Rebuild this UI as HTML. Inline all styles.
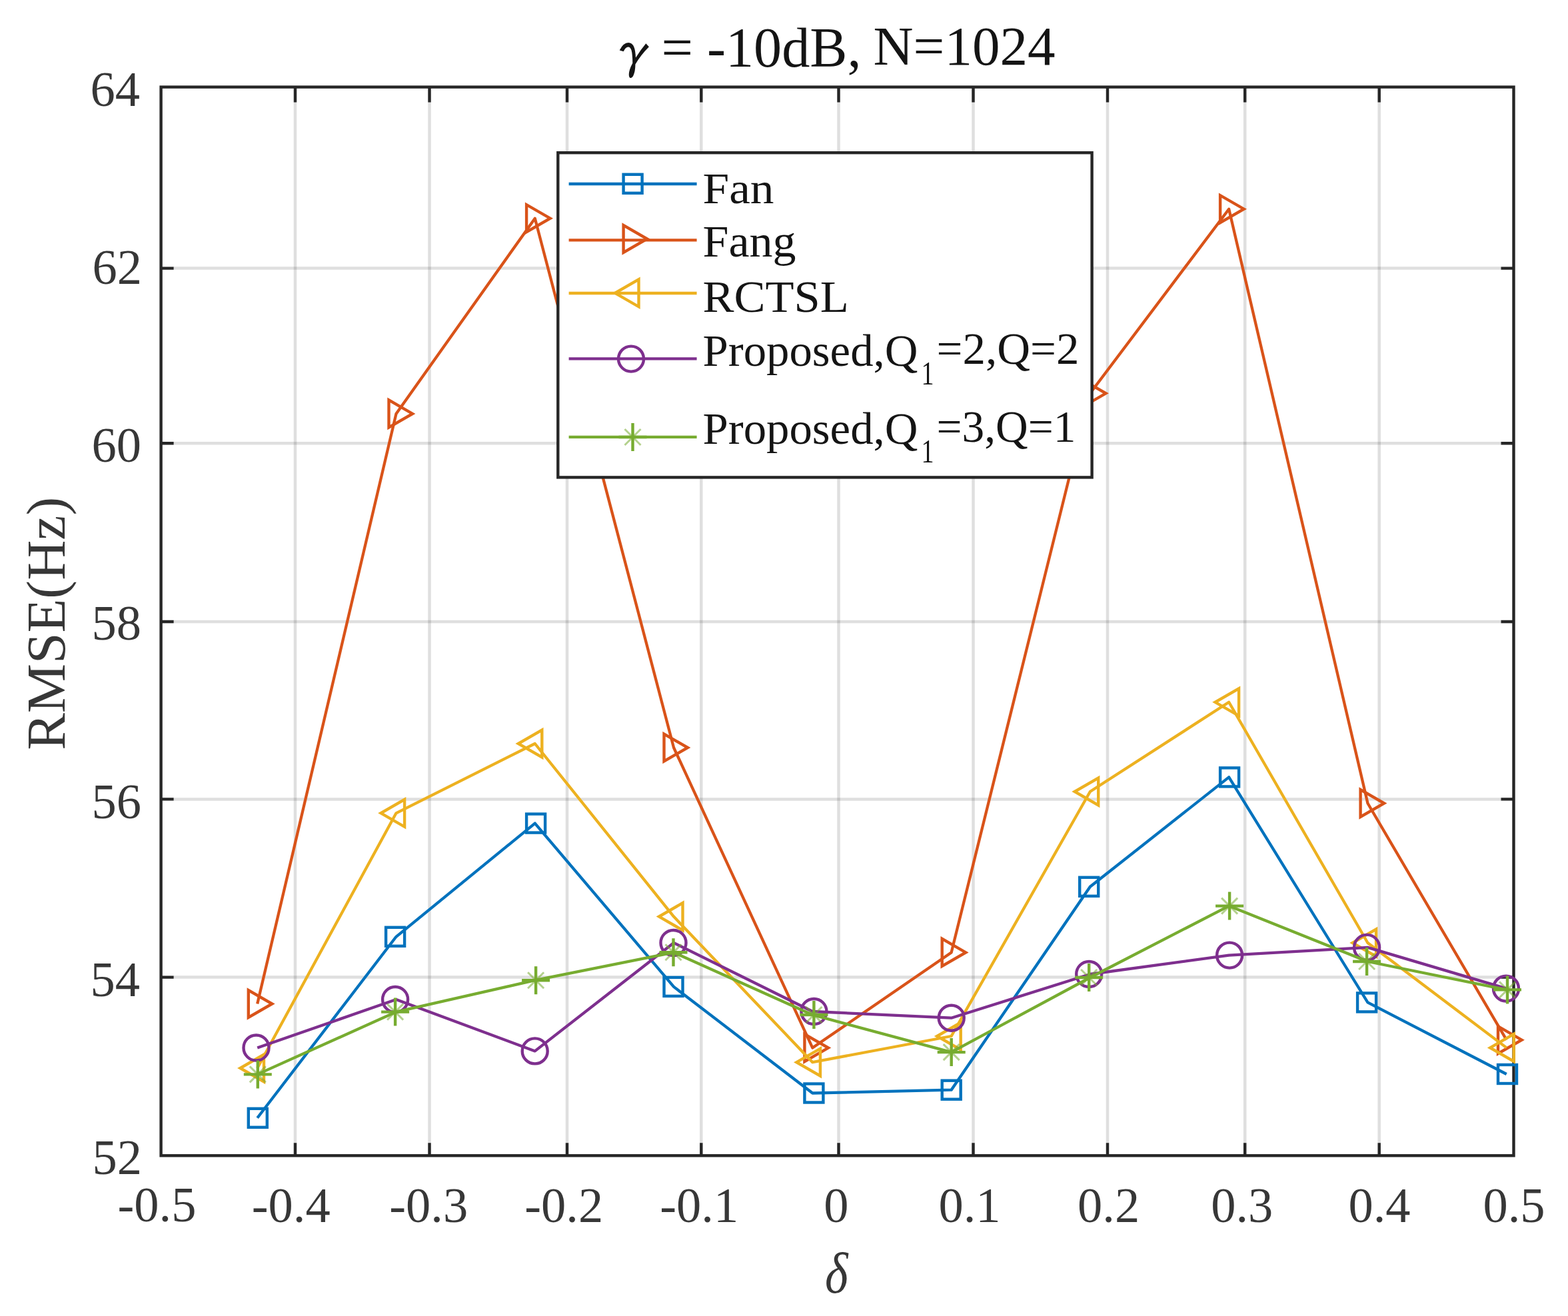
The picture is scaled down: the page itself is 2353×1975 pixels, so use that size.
<!DOCTYPE html>
<html><head><meta charset="utf-8"><title>RMSE plot</title>
<style>html,body{margin:0;padding:0;background:#fff;}svg{display:block;}svg{font-family:"Liberation Serif","Times New Roman",serif;}</style></head><body>
<svg width="2353" height="1975" viewBox="0 0 2353 1975">
<rect width="2353" height="1975" fill="#fff"/>
<path d="M443 130.6V1734.3M644.5 130.6V1734.3M851 130.6V1734.3M1052.3 130.6V1734.3M1258.5 130.6V1734.3M1460.5 130.6V1734.3M1662 130.6V1734.3M1868.2 130.6V1734.3M2069.7 130.6V1734.3" stroke="#262626" stroke-opacity="0.15" stroke-width="4.5" fill="none"/>
<path d="M241.6 402.6H2271.5M241.6 665.3H2271.5M241.6 933H2271.5M241.6 1199.4H2271.5M241.6 1466.6H2271.5" stroke="#262626" stroke-opacity="0.15" stroke-width="4.5" fill="none"/>
<path d="M443 1734.3V1715.3M443 130.6V153.6M644.5 1734.3V1715.3M644.5 130.6V153.6M851 1734.3V1715.3M851 130.6V153.6M1052.3 1734.3V1715.3M1052.3 130.6V153.6M1258.5 1734.3V1715.3M1258.5 130.6V153.6M1460.5 1734.3V1715.3M1460.5 130.6V153.6M1662 1734.3V1715.3M1662 130.6V153.6M1868.2 1734.3V1715.3M1868.2 130.6V153.6M2069.7 1734.3V1715.3M2069.7 130.6V153.6M241.6 402.6H260.6M2271.5 402.6H2252.5M241.6 665.3H260.6M2271.5 665.3H2252.5M241.6 933H260.6M2271.5 933H2252.5M241.6 1199.4H260.6M2271.5 1199.4H2252.5M241.6 1466.6H260.6M2271.5 1466.6H2252.5" stroke="#262626" stroke-width="4.4" fill="none"/>
<rect x="241.6" y="130.6" width="2029.9" height="1603.7" fill="none" stroke="#262626" stroke-width="4.4"/>
<polyline points="386.2,1677.8 594.48,1405.8 802.76,1235.6 1011.04,1480.9 1219.32,1640.5 1427.6,1635.7 1635.88,1330.8 1844.16,1166.4 2052.44,1504.4 2260.72,1612" fill="none" stroke="#0072BD" stroke-width="4.3" stroke-linejoin="round"/>
<g><rect x="372.8" y="1663.8" width="28" height="28" fill="none" stroke="#0072BD" stroke-width="4.4"/><rect x="579.1" y="1391.8" width="28" height="28" fill="none" stroke="#0072BD" stroke-width="4.4"/><rect x="790.1" y="1221.6" width="28" height="28" fill="none" stroke="#0072BD" stroke-width="4.4"/><rect x="996.5" y="1466.9" width="28" height="28" fill="none" stroke="#0072BD" stroke-width="4.4"/><rect x="1207.4" y="1626.5" width="28" height="28" fill="none" stroke="#0072BD" stroke-width="4.4"/><rect x="1413.7" y="1621.7" width="28" height="28" fill="none" stroke="#0072BD" stroke-width="4.4"/><rect x="1620.2" y="1316.8" width="28" height="28" fill="none" stroke="#0072BD" stroke-width="4.4"/><rect x="1831.1" y="1152.4" width="28" height="28" fill="none" stroke="#0072BD" stroke-width="4.4"/><rect x="2037.1" y="1490.4" width="28" height="28" fill="none" stroke="#0072BD" stroke-width="4.4"/><rect x="2248" y="1598" width="28" height="28" fill="none" stroke="#0072BD" stroke-width="4.4"/></g>
<polyline points="386.2,1506.5 594.48,620.9 802.76,327.7 1011.04,1122 1219.32,1572.6 1427.6,1429.4 1635.88,590.3 1844.16,313.7 2052.44,1205.5 2260.72,1560.7" fill="none" stroke="#D95319" stroke-width="4.3" stroke-linejoin="round"/>
<g><polygon points="372.8,1486 372.8,1527 408.3,1506.5" fill="none" stroke="#D95319" stroke-width="4.4"/><polygon points="583.5,600.4 583.5,641.4 619,620.9" fill="none" stroke="#D95319" stroke-width="4.4"/><polygon points="790.1,307.2 790.1,348.2 825.6,327.7" fill="none" stroke="#D95319" stroke-width="4.4"/><polygon points="996.5,1101.5 996.5,1142.5 1032,1122" fill="none" stroke="#D95319" stroke-width="4.4"/><polygon points="1207.4,1552.1 1207.4,1593.1 1242.9,1572.6" fill="none" stroke="#D95319" stroke-width="4.4"/><polygon points="1413.7,1408.9 1413.7,1449.9 1449.2,1429.4" fill="none" stroke="#D95319" stroke-width="4.4"/><polygon points="1624,569.8 1624,610.8 1659.5,590.3" fill="none" stroke="#D95319" stroke-width="4.4"/><polygon points="1831.1,293.2 1831.1,334.2 1866.6,313.7" fill="none" stroke="#D95319" stroke-width="4.4"/><polygon points="2041.6,1185 2041.6,1226 2077.1,1205.5" fill="none" stroke="#D95319" stroke-width="4.4"/><polygon points="2248,1540.2 2248,1581.2 2283.5,1560.7" fill="none" stroke="#D95319" stroke-width="4.4"/></g>
<polyline points="386.2,1603 594.48,1220.3 802.76,1116 1011.04,1375.6 1219.32,1594.2 1427.6,1555 1635.88,1188 1844.16,1053.8 2052.44,1415 2260.72,1572.4" fill="none" stroke="#EDB120" stroke-width="4.3" stroke-linejoin="round"/>
<g><polygon points="396,1582.5 396,1623.5 360.5,1603" fill="none" stroke="#EDB120" stroke-width="4.4"/><polygon points="607.1,1199.8 607.1,1240.8 571.6,1220.3" fill="none" stroke="#EDB120" stroke-width="4.4"/><polygon points="813.3,1095.5 813.3,1136.5 777.8,1116" fill="none" stroke="#EDB120" stroke-width="4.4"/><polygon points="1024.5,1355.1 1024.5,1396.1 989,1375.6" fill="none" stroke="#EDB120" stroke-width="4.4"/><polygon points="1230.9,1573.7 1230.9,1614.7 1195.4,1594.2" fill="none" stroke="#EDB120" stroke-width="4.4"/><polygon points="1441.7,1534.5 1441.7,1575.5 1406.2,1555" fill="none" stroke="#EDB120" stroke-width="4.4"/><polygon points="1648.2,1167.5 1648.2,1208.5 1612.7,1188" fill="none" stroke="#EDB120" stroke-width="4.4"/><polygon points="1859.1,1033.3 1859.1,1074.3 1823.6,1053.8" fill="none" stroke="#EDB120" stroke-width="4.4"/><polygon points="2065.1,1394.5 2065.1,1435.5 2029.6,1415" fill="none" stroke="#EDB120" stroke-width="4.4"/><polygon points="2271.7,1551.9 2271.7,1592.9 2236.2,1572.4" fill="none" stroke="#EDB120" stroke-width="4.4"/></g>
<polyline points="386.2,1572.5 594.48,1500 802.76,1577.4 1011.04,1415 1219.32,1518 1427.6,1527.7 1635.88,1462 1844.16,1433.6 2052.44,1421.9 2260.72,1483.6" fill="none" stroke="#7E2F8E" stroke-width="4.3" stroke-linejoin="round"/>
<g><circle cx="384.5" cy="1572.5" r="19" fill="none" stroke="#7E2F8E" stroke-width="4.4"/><circle cx="593.1" cy="1500" r="19" fill="none" stroke="#7E2F8E" stroke-width="4.4"/><circle cx="802.7" cy="1577.4" r="19" fill="none" stroke="#7E2F8E" stroke-width="4.4"/><circle cx="1010.5" cy="1415" r="19" fill="none" stroke="#7E2F8E" stroke-width="4.4"/><circle cx="1221.4" cy="1518" r="19" fill="none" stroke="#7E2F8E" stroke-width="4.4"/><circle cx="1427.7" cy="1527.7" r="19" fill="none" stroke="#7E2F8E" stroke-width="4.4"/><circle cx="1634.2" cy="1462" r="19" fill="none" stroke="#7E2F8E" stroke-width="4.4"/><circle cx="1845.1" cy="1433.6" r="19" fill="none" stroke="#7E2F8E" stroke-width="4.4"/><circle cx="2051.1" cy="1421.9" r="19" fill="none" stroke="#7E2F8E" stroke-width="4.4"/><circle cx="2260" cy="1483.6" r="19" fill="none" stroke="#7E2F8E" stroke-width="4.4"/></g>
<polyline points="386.2,1612.4 594.48,1518.6 802.76,1471.2 1011.04,1429.3 1219.32,1523 1427.6,1579.1 1635.88,1467 1844.16,1359.6 2052.44,1443 2260.72,1485.4" fill="none" stroke="#77AC30" stroke-width="4.3" stroke-linejoin="round"/>
<g><path d="M386.8 1591.4V1633.4M365.8 1612.4H407.8" stroke="#77AC30" stroke-width="4.4" fill="none"/><path d="M374.8 1600.4L398.8 1624.4M374.8 1624.4L398.8 1600.4" stroke="#77AC30" stroke-width="3" stroke-opacity="0.55" fill="none"/><path d="M593.1 1497.6V1539.6M572.1 1518.6H614.1" stroke="#77AC30" stroke-width="4.4" fill="none"/><path d="M581.1 1506.6L605.1 1530.6M581.1 1530.6L605.1 1506.6" stroke="#77AC30" stroke-width="3" stroke-opacity="0.55" fill="none"/><path d="M804.1 1450.2V1492.2M783.1 1471.2H825.1" stroke="#77AC30" stroke-width="4.4" fill="none"/><path d="M792.1 1459.2L816.1 1483.2M792.1 1483.2L816.1 1459.2" stroke="#77AC30" stroke-width="3" stroke-opacity="0.55" fill="none"/><path d="M1010.5 1408.3V1450.3M989.5 1429.3H1031.5" stroke="#77AC30" stroke-width="4.4" fill="none"/><path d="M998.5 1417.3L1022.5 1441.3M998.5 1441.3L1022.5 1417.3" stroke="#77AC30" stroke-width="3" stroke-opacity="0.55" fill="none"/><path d="M1221.4 1502V1544M1200.4 1523H1242.4" stroke="#77AC30" stroke-width="4.4" fill="none"/><path d="M1209.4 1511L1233.4 1535M1209.4 1535L1233.4 1511" stroke="#77AC30" stroke-width="3" stroke-opacity="0.55" fill="none"/><path d="M1427.7 1558.1V1600.1M1406.7 1579.1H1448.7" stroke="#77AC30" stroke-width="4.4" fill="none"/><path d="M1415.7 1567.1L1439.7 1591.1M1415.7 1591.1L1439.7 1567.1" stroke="#77AC30" stroke-width="3" stroke-opacity="0.55" fill="none"/><path d="M1634.2 1446V1488M1613.2 1467H1655.2" stroke="#77AC30" stroke-width="4.4" fill="none"/><path d="M1622.2 1455L1646.2 1479M1622.2 1479L1646.2 1455" stroke="#77AC30" stroke-width="3" stroke-opacity="0.55" fill="none"/><path d="M1845.1 1338.6V1380.6M1824.1 1359.6H1866.1" stroke="#77AC30" stroke-width="4.4" fill="none"/><path d="M1833.1 1347.6L1857.1 1371.6M1833.1 1371.6L1857.1 1347.6" stroke="#77AC30" stroke-width="3" stroke-opacity="0.55" fill="none"/><path d="M2051.1 1422V1464M2030.1 1443H2072.1" stroke="#77AC30" stroke-width="4.4" fill="none"/><path d="M2039.1 1431L2063.1 1455M2039.1 1455L2063.1 1431" stroke="#77AC30" stroke-width="3" stroke-opacity="0.55" fill="none"/><path d="M2262 1464.4V1506.4M2241 1485.4H2283" stroke="#77AC30" stroke-width="4.4" fill="none"/><path d="M2250 1473.4L2274 1497.4M2250 1497.4L2274 1473.4" stroke="#77AC30" stroke-width="3" stroke-opacity="0.55" fill="none"/></g>
<text transform="translate(96.5 935.8) rotate(-90)" text-anchor="middle" font-size="82.44" fill="#262626" fill-opacity="0.92" textLength="379.92" lengthAdjust="spacingAndGlyphs">RMSE(Hz)</text>
<rect x="837.3" y="229.2" width="801.3" height="487.2" fill="#fff" stroke="#262626" stroke-width="4.4"/>
<path d="M853.6 276H1045.6" stroke="#0072BD" stroke-width="4.3"/>
<rect x="935.6" y="261.8" width="28" height="28" fill="none" stroke="#0072BD" stroke-width="4.4"/>
<path d="M853.6 360.4H1045.6" stroke="#D95319" stroke-width="4.3"/>
<polygon points="935.6,338 935.6,379 971.1,358.5" fill="none" stroke="#D95319" stroke-width="4.4"/>
<path d="M853.6 440H1045.6" stroke="#EDB120" stroke-width="4.3"/>
<polygon points="958.5,419.3 958.5,460.3 923,439.8" fill="none" stroke="#EDB120" stroke-width="4.4"/>
<path d="M853.6 538.4H1045.6" stroke="#7E2F8E" stroke-width="4.3"/>
<circle cx="947" cy="538.6" r="19" fill="none" stroke="#7E2F8E" stroke-width="4.4"/>
<path d="M853.6 655.8H1045.6" stroke="#77AC30" stroke-width="4.3"/>
<path d="M949.5 635V677M928.5 656H970.5" stroke="#77AC30" stroke-width="4.4" fill="none"/><path d="M937.5 644L961.5 668M937.5 668L961.5 644" stroke="#77AC30" stroke-width="3" stroke-opacity="0.55" fill="none"/>
<text x="235.5" y="1833" font-size="74.5" fill="#262626" fill-opacity="0.92" text-anchor="middle">-0.5</text>
<text x="436.7" y="1833.5" font-size="74.5" fill="#262626" fill-opacity="0.92" text-anchor="middle">-0.4</text>
<text x="643.2" y="1833.5" font-size="74.5" fill="#262626" fill-opacity="0.92" text-anchor="middle">-0.3</text>
<text x="846.2" y="1833.5" font-size="74.5" fill="#262626" fill-opacity="0.92" text-anchor="middle">-0.2</text>
<text x="1049.2" y="1833.5" font-size="74.5" fill="#262626" fill-opacity="0.92" text-anchor="middle">-0.1</text>
<text x="1254.8" y="1833.5" font-size="74.5" fill="#262626" fill-opacity="0.92" text-anchor="middle">0</text>
<text x="1455" y="1833.5" font-size="74.5" fill="#262626" fill-opacity="0.92" text-anchor="middle">0.1</text>
<text x="1663.6" y="1833.5" font-size="74.5" fill="#262626" fill-opacity="0.92" text-anchor="middle">0.2</text>
<text x="1863.8" y="1833.5" font-size="74.5" fill="#262626" fill-opacity="0.92" text-anchor="middle">0.3</text>
<text x="2070" y="1833.5" font-size="74.5" fill="#262626" fill-opacity="0.92" text-anchor="middle">0.4</text>
<text x="2272" y="1833.5" font-size="74.5" fill="#262626" fill-opacity="0.92" text-anchor="middle">0.5</text>
<text x="210" y="158.5" font-size="74.5" fill="#262626" fill-opacity="0.92" text-anchor="end">64</text>
<text x="213" y="425.82" font-size="74.5" fill="#262626" fill-opacity="0.92" text-anchor="end">62</text>
<text x="212" y="693.14" font-size="74.5" fill="#262626" fill-opacity="0.92" text-anchor="end">60</text>
<text x="212" y="960.46" font-size="74.5" fill="#262626" fill-opacity="0.92" text-anchor="end">58</text>
<text x="212" y="1227.78" font-size="74.5" fill="#262626" fill-opacity="0.92" text-anchor="end">56</text>
<text x="210" y="1495.1" font-size="74.5" fill="#262626" fill-opacity="0.92" text-anchor="end">54</text>
<text x="213" y="1762.42" font-size="74.5" fill="#262626" fill-opacity="0.92" text-anchor="end">52</text>
<text x="914.8" y="109.3" font-size="82.97" fill="#000" fill-opacity="0.92" font-family="IPAGothic, 'Liberation Serif', serif" textLength="74.3" lengthAdjust="spacingAndGlyphs">γ</text>
<text x="992.4" y="99.5" font-size="83.73" fill="#000" fill-opacity="0.92" textLength="300.08" lengthAdjust="spacingAndGlyphs">= -10dB,</text>
<text x="1310.5" y="97" font-size="83.53" fill="#000" fill-opacity="0.92" textLength="273.18" lengthAdjust="spacingAndGlyphs">N=1024</text>
<text x="1238" y="1939.5" font-size="86.65" fill="#262626" fill-opacity="0.92" font-style="italic" textLength="34.48" lengthAdjust="spacingAndGlyphs">δ</text>
<text x="1054.5" y="304.5" font-size="65.48" fill="#000" fill-opacity="0.92" textLength="107" lengthAdjust="spacingAndGlyphs">Fan</text>
<text x="1054.5" y="385" font-size="68.33" fill="#000" fill-opacity="0.92" textLength="140" lengthAdjust="spacingAndGlyphs">Fang</text>
<text x="1054.5" y="467.6" font-size="68.14" fill="#000" fill-opacity="0.92" textLength="219.22" lengthAdjust="spacingAndGlyphs">RCTSL</text>
<text x="1054.5" y="549" font-size="67.85" fill="#000" fill-opacity="0.92" textLength="322.91" lengthAdjust="spacingAndGlyphs">Proposed,Q</text>
<text x="1382.5" y="576.5" font-size="51.32" fill="#000" fill-opacity="0.92" textLength="19" lengthAdjust="spacingAndGlyphs">1</text>
<text x="1405.5" y="545.5" font-size="67.85" fill="#000" fill-opacity="0.92" textLength="213.91" lengthAdjust="spacingAndGlyphs">=2,Q=2</text>
<text x="1054.5" y="666.4" font-size="67.85" fill="#000" fill-opacity="0.92" textLength="322.91" lengthAdjust="spacingAndGlyphs">Proposed,Q</text>
<text x="1382.5" y="693.9" font-size="51.32" fill="#000" fill-opacity="0.92" textLength="19" lengthAdjust="spacingAndGlyphs">1</text>
<text x="1405.5" y="662.9" font-size="67.85" fill="#000" fill-opacity="0.92" textLength="208.91" lengthAdjust="spacingAndGlyphs">=3,Q=1</text>
</svg></body></html>
